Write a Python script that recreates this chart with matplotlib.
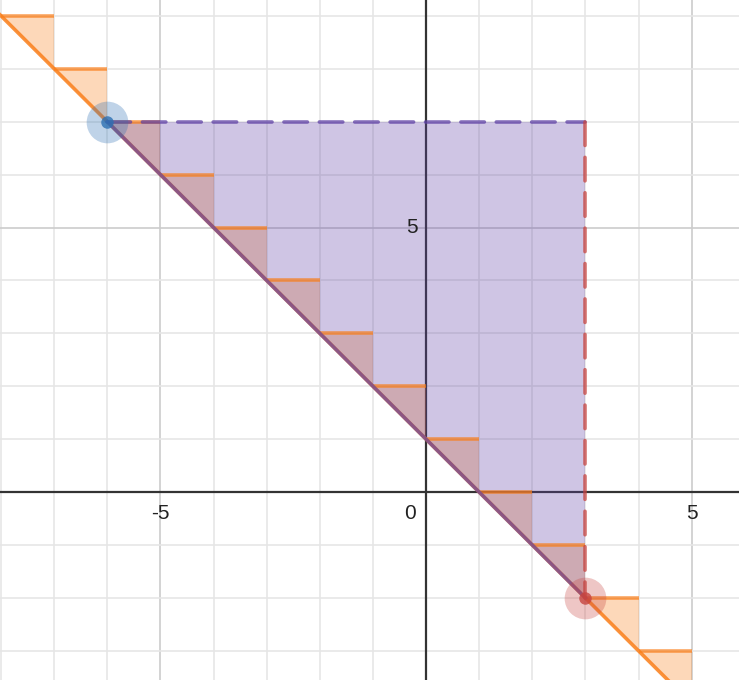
import matplotlib.pyplot as plt

# line y = 1 - x
line_x = [-9, 7]
line_y = [10, -6]

# left-endpoint staircase (Riemann rectangles)
step_left = [-8, -7, -6, -5, -4, -3, -2, -1, 0, 1, 2, 3, 4]
step_height = [9, 8, 7, 6, 5, 4, 3, 2, 1, 0, -1, -2, -3]

# triangle
tri_x = [-6, 3, 3]
tri_y = [7, 7, -2]

# points
start_pt = (-6, 7)
end_pt = (3, -2)

orange = "#fa7e19"
purple = "#6042a6"
blue = "#2d70b3"
red = "#c74440"

fig = plt.figure(figsize=(7.39, 6.8), dpi=100)
ax = fig.add_axes([0, 0, 1, 1])
ax.set_xlim(-8.02, 5.89)
ax.set_ylim(-3.55, 9.30)
ax.axis("off")

# grid
for gx in range(-9, 7):
    ax.axvline(gx, color="#cccccc" if gx % 5 == 0 else "#e6e6e6",
               lw=1.2, zorder=0)
for gy in range(-4, 10):
    ax.axhline(gy, color="#cccccc" if gy % 5 == 0 else "#e6e6e6",
               lw=1.2, zorder=0)
ax.axhline(0, color="#333333", lw=1.6, zorder=1)
ax.axvline(0, color="#333333", lw=1.6, zorder=1)

# staircase fills and tops
for n, h in zip(step_left, step_height):
    ax.fill([n, n + 1, n + 1], [h, h, h - 1], color=orange, alpha=0.3,
            lw=0, zorder=2)
    ax.plot([n, n + 1], [h, h], color=orange, lw=2.6, alpha=0.7,
            solid_capstyle="butt", zorder=3)

# triangle
ax.fill(tri_x, tri_y, color=purple, alpha=0.3, lw=0, zorder=2)
ax.plot(line_x, line_y, color=orange, lw=2.6, alpha=0.85, zorder=4)
ax.plot([tri_x[0], tri_x[2]], [tri_y[0], tri_y[2]], color=purple, lw=2.6,
        alpha=0.7, zorder=5)
ax.plot([tri_x[0], tri_x[1]], [tri_y[0], tri_y[1]], color=purple, lw=2.6,
        alpha=0.75, dashes=(6.5, 3.3), dash_capstyle="round", zorder=5)
ax.plot([tri_x[1], tri_x[2]], [tri_y[1], tri_y[2]], color=red, lw=2.6,
        alpha=0.75, dashes=(6.5, 3.3), dash_capstyle="round", zorder=5)

# points
for (px, py), c in [(start_pt, blue), (end_pt, red)]:
    ax.plot(px, py, "o", ms=30, color=c, alpha=0.3, mec="none", zorder=6)
    ax.plot(px, py, "o", ms=9, color=c, alpha=0.8, mec="none", zorder=7)

# tick labels
font = dict(family="Liberation Sans", fontsize=15, color="#222222")
ax.text(-5, -0.22, "-5", ha="center", va="top", zorder=8, **font)
ax.text(5, -0.22, "5", ha="center", va="top", zorder=8, **font)
ax.text(-0.2, -0.22, "0", ha="right", va="top", zorder=8, **font)
ax.text(-0.15, 5, "5", ha="right", va="center", zorder=8, **font)

fig.savefig("out.png", dpi=100)
